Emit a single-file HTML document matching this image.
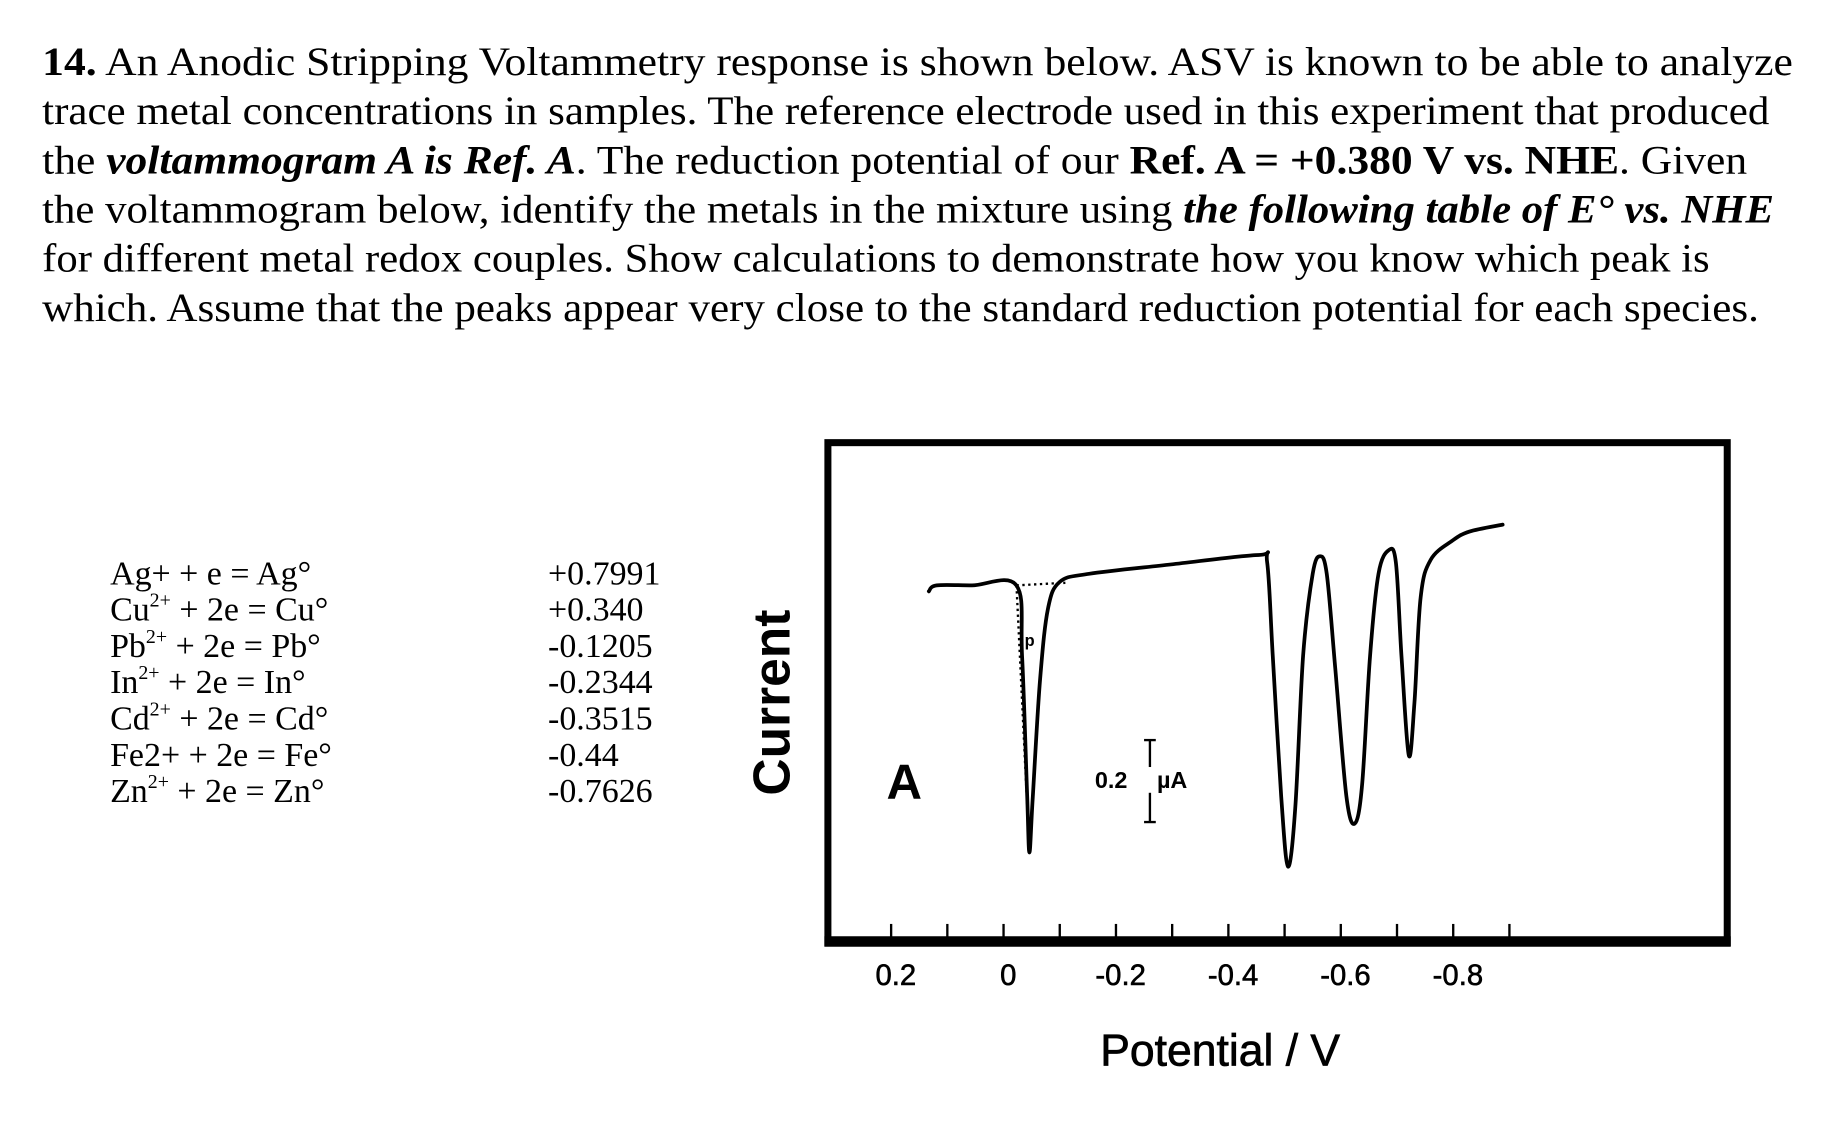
<!DOCTYPE html>
<html><head><meta charset="utf-8"><style>
html,body{margin:0;padding:0;background:#fff;}
svg{display:block;}
.t{font-family:"Liberation Serif","Times New Roman",serif;font-size:34px;fill:#000;}
.tb{font-family:"Liberation Serif",serif;font-size:29px;fill:#000;}
.s{font-family:"Liberation Sans",sans-serif;fill:#000;}
</style></head><body>
<svg id="root" width="1827" height="1127" viewBox="0 0 1560.2 962.4">
<g>
<text class="t" x="36" y="64" textLength="1495" lengthAdjust="spacingAndGlyphs"><tspan font-weight="bold">14.</tspan> An Anodic Stripping Voltammetry response is shown below.  ASV is known to be able to analyze</text>
<text class="t" x="36" y="106" textLength="1475" lengthAdjust="spacingAndGlyphs">trace metal concentrations in samples.  The reference electrode used in this experiment that produced</text>
<text class="t" x="36" y="148" textLength="1456" lengthAdjust="spacingAndGlyphs">the <tspan font-weight="bold" font-style="italic">voltammogram A is Ref. A</tspan>. The reduction potential of our <tspan font-weight="bold">Ref. A  = +0.380 V vs. NHE</tspan>.  Given</text>
<text class="t" x="36" y="190" textLength="1479" lengthAdjust="spacingAndGlyphs">the voltammogram below, identify the metals in the mixture using <tspan font-weight="bold" font-style="italic">the following table of E° vs. NHE</tspan></text>
<text class="t" x="36" y="232" textLength="1424" lengthAdjust="spacingAndGlyphs">for different metal redox couples. Show calculations to demonstrate how you know which peak is</text>
<text class="t" x="36" y="274" textLength="1466" lengthAdjust="spacingAndGlyphs">which.  Assume that the peaks appear very close to the standard reduction potential for each species.</text>
</g>
<g>
<text class="tb" x="94" y="499">Ag+ + e = Ag°</text>
<text class="tb" x="94" y="530">Cu<tspan font-size="17" dy="-12">2+</tspan><tspan dy="12"> + 2e = Cu°</tspan></text>
<text class="tb" x="94" y="561">Pb<tspan font-size="17" dy="-12">2+</tspan><tspan dy="12"> + 2e = Pb°</tspan></text>
<text class="tb" x="94" y="592">In<tspan font-size="17" dy="-12">2+</tspan><tspan dy="12"> + 2e = In°</tspan></text>
<text class="tb" x="94" y="623">Cd<tspan font-size="17" dy="-12">2+</tspan><tspan dy="12"> + 2e = Cd°</tspan></text>
<text class="tb" x="94" y="654">Fe2+ + 2e = Fe°</text>
<text class="tb" x="94" y="685">Zn<tspan font-size="17" dy="-12">2+</tspan><tspan dy="12"> + 2e = Zn°</tspan></text>
<text class="tb" x="468" y="499">+0.7991</text>
<text class="tb" x="468" y="530">+0.340</text>
<text class="tb" x="468" y="561">-0.1205</text>
<text class="tb" x="468" y="592">-0.2344</text>
<text class="tb" x="468" y="623">-0.3515</text>
<text class="tb" x="468" y="654">-0.44</text>
<text class="tb" x="468" y="685">-0.7626</text>
</g>
<text class="s" x="0" y="0" font-size="44" font-weight="bold" text-anchor="middle" transform="translate(674,600) rotate(-90)">Current</text>
<g id="chart">
<rect x="707" y="378" width="768" height="427" fill="none" stroke="#000" stroke-width="6"/>
<line x1="704" y1="804" x2="1478" y2="804" stroke="#000" stroke-width="9"/>
<text class="s" x="757" y="682" font-size="42" font-weight="bold">A</text>
<g>
<line x1="982" y1="632" x2="982" y2="702" stroke="#000" stroke-width="2"/>
<line x1="977" y1="632" x2="987" y2="632" stroke="#000" stroke-width="2"/>
<line x1="977" y1="702" x2="987" y2="702" stroke="#000" stroke-width="2"/>
<rect x="975" y="655" width="14" height="22" fill="#fff"/>
<text class="s" x="935" y="673" font-size="20" font-weight="bold">0.2</text>
<text class="s" x="988" y="673" font-size="20" font-weight="bold">µA</text>
</g>
<text class="s" x="1042" y="910" font-size="38" text-anchor="middle" stroke="#000" stroke-width="0.6">Potential / V</text>
</g>
</svg>
<script>
const potentials = [0.133,0.119,0.056,-0.023,-0.033,-0.042,-0.046,-0.052,-0.065,-0.079,-0.100,-0.152,-0.298,-0.454,-0.469,-0.479,-0.494,-0.506,-0.519,-0.533,-0.550,-0.563,-0.575,-0.590,-0.610,-0.625,-0.638,-0.652,-0.667,-0.685,-0.698,-0.708,-0.721,-0.731,-0.742,-0.760,-0.798,-0.829,-0.888];
const currents = [0.822,0.836,0.836,0.836,0.671,0.342,0.211,0.342,0.616,0.781,0.844,0.863,0.885,0.907,0.890,0.671,0.342,0.178,0.315,0.671,0.863,0.904,0.863,0.644,0.342,0.279,0.370,0.671,0.863,0.918,0.890,0.671,0.438,0.562,0.808,0.896,0.940,0.962,0.978];
const tickValues = [0.2,0.1,0,-0.1,-0.2,-0.3,-0.4,-0.5,-0.6,-0.7,-0.8,-0.9];
const tickLabelValues = [0.2,0,-0.2,-0.4,-0.6,-0.8];
const tickLabels = ["0.2","0","-0.2","-0.4","-0.6","-0.8"];
const peakBase = [-0.023,0.836];
const peakTip = [-0.046,0.211];
const baseEnd = [-0.110,0.842];

const NS = "http://www.w3.org/2000/svg";
const chart = document.getElementById('chart');
function xs(v){ return 857 - v*480; }
function ys(i){ return 805 - i*365; }
function mk(tag, attrs){ const e=document.createElementNS(NS,tag); for(const k in attrs) e.setAttribute(k,attrs[k]); chart.appendChild(e); return e; }

tickValues.forEach(v=>{
  const t = mk('line',{x1:xs(v),x2:xs(v),y1:789,y2:800,stroke:'#000','stroke-width':2});
  
  
});
tickLabelValues.forEach((v,i)=>{
  const t = mk('text',{x:xs(v)+4,y:841,'font-size':25,'text-anchor':'middle','class':'s',stroke:'#000','stroke-width':0.5});
  t.textContent = tickLabels[i];
  
  
});

const pts = potentials.map((v,i)=>[xs(v), ys(currents[i])]);
let d = 'M' + pts[0][0].toFixed(1) + ' ' + pts[0][1].toFixed(1);
for (let i=0;i<pts.length-1;i++){
  const p0 = pts[Math.max(0,i-1)], p1 = pts[i], p2 = pts[i+1], p3 = pts[Math.min(pts.length-1,i+2)];
  const c1x = p1[0] + (p2[0]-p0[0])/6, c1y = p1[1] + (p2[1]-p0[1])/6;
  const c2x = p2[0] - (p3[0]-p1[0])/6, c2y = p2[1] - (p3[1]-p1[1])/6;
  d += ' C' + c1x.toFixed(1)+' '+c1y.toFixed(1)+' '+c2x.toFixed(1)+' '+c2y.toFixed(1)+' '+p2[0].toFixed(1)+' '+p2[1].toFixed(1);
}
const path = mk('path',{d:d,fill:'none',stroke:'#000','stroke-width':3.2,'stroke-linejoin':'round','stroke-linecap':'round'});



const dv = mk('line',{x1:xs(peakBase[0]),y1:ys(peakBase[1]),x2:xs(peakTip[0]),y2:ys(peakTip[1]),stroke:'#000','stroke-width':2,'stroke-dasharray':'2 3'});


const dh = mk('line',{x1:xs(peakBase[0]),y1:ys(peakBase[1]),x2:xs(baseEnd[0]),y2:ys(baseEnd[1]),stroke:'#000','stroke-width':2,'stroke-dasharray':'2 3'});


const ip = mk('text',{x:xs(peakBase[0])+7,y:ys(peakBase[1])+52,'font-size':14,'font-weight':'bold','class':'s'});
ip.textContent = 'p';


</script>
</body></html>
